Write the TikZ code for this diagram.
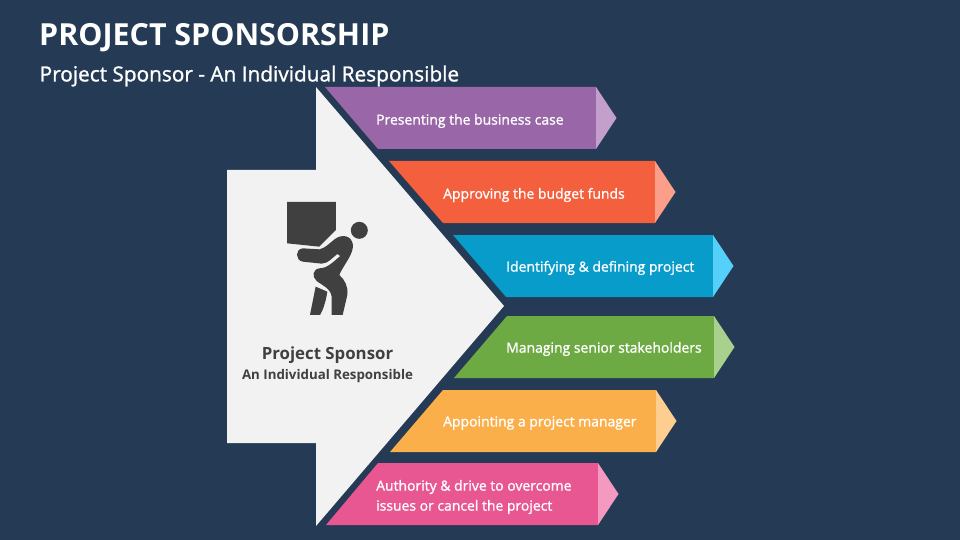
\documentclass[tikz,border=0pt]{standalone}
\usepackage{fontspec}
\setmainfont{Open Sans}
\newfontfamily\heavyfont[FakeBold=1.2]{Open Sans}
\usetikzlibrary{positioning}
\definecolor{BgNavy}{HTML}{253A54}
\definecolor{ArrowGray}{HTML}{F2F2F2}
\definecolor{IconGray}{HTML}{404040}
\definecolor{PurpleMain}{HTML}{9966A8}
\definecolor{PurpleTip}{HTML}{C3A0CC}
\definecolor{RedMain}{HTML}{F45F3D}
\definecolor{RedTip}{HTML}{FB9E8A}
\definecolor{BlueMain}{HTML}{089CCB}
\definecolor{BlueTip}{HTML}{55D0FB}
\definecolor{GreenMain}{HTML}{6EAA44}
\definecolor{GreenTip}{HTML}{A9D18E}
\definecolor{OrangeMain}{HTML}{FBAF4B}
\definecolor{OrangeTip}{HTML}{FDCE8F}
\definecolor{PinkMain}{HTML}{E95793}
\definecolor{PinkTip}{HTML}{F49AC1}
\tikzset{
  banner/.style={anchor=west,text=white,font=\fontsize{13.95}{20}\selectfont\heavyfont,align=left,inner sep=0pt},
  heading/.style={anchor=west,text=white,inner sep=0pt},
  caption/.style={text=IconGray,inner sep=0pt}
}
\begin{document}
\begin{tikzpicture}[x=1pt,y=-1pt]
\useasboundingbox (0,0) rectangle (960,540);
\fill [BgNavy] (0,0) rectangle (960,540);
\node[heading,font=\fontsize{30.4}{36}\selectfont\bfseries] (title) at (39,38) {PROJECT SPONSORSHIP};
\node[heading,font=\fontsize{20.8}{24}\selectfont\heavyfont] (subtitle) at (39.5,76) {Project Sponsor - An Individual Responsible};
% big arrow
\fill [ArrowGray] (227,170) -- (316,170) -- (316,87) -- (504,306) -- (316,526) -- (316,443) -- (227,443) -- cycle;
% banners: top, slanted corner, lower corner, body end, colours
\foreach \ytop/\xa/\xb/\xend/\cmain/\ctip in {
  87/325/378/596/PurpleMain/PurpleTip,
  161/389/443/655/RedMain/RedTip,
  235/453/506/713/BlueMain/BlueTip,
  316/507/454/714/GreenMain/GreenTip,
  390/443/390/656/OrangeMain/OrangeTip,
  463/378/326/598/PinkMain/PinkTip}
{
\fill [\cmain] (\xa,\ytop) -- (\xend,\ytop) -- (\xend,\ytop+62) -- (\xb,\ytop+62) -- cycle;
\fill [\ctip] (\xend,\ytop) -- (\xend+20.5,\ytop+31) -- (\xend,\ytop+62) -- cycle;
}
\node[banner] (present) at (376,121) {Presenting the business case};
\node[banner] (approve) at (443,195) {Approving the budget funds};
\node[banner] (identify) at (506,268) {Identifying \& defining project};
\node[banner] (manage) at (506,349) {Managing senior stakeholders};
\node[banner] (appoint) at (443,423) {Appointing a project manager};
\node[banner] (authority) at (376,497) {Authority \& drive to overcome\\issues or cancel the project};
% person with box
\begin{scope}[shift={(260,180)},x=0.3333pt,y=-0.3333pt]
\fill [IconGray] (81,66) -- (228,66) -- (228,150) -- (178,200) -- (81,190) -- cycle;
\fill [IconGray] (298,151) circle (25.5);
\fill [IconGray] (128,205) -- (178,208) .. controls (195,205) and (208,190) .. (225,177)
  .. controls (245,162) and (275,165) .. (279,195) .. controls (280,225) and (250,255) .. (238,285)
  .. controls (255,300) and (265,320) .. (262,345) -- (248,405) -- (215,405) -- (215,350)
  .. controls (212,325) and (185,315) .. (170,303) .. controls (155,290) and (158,268) .. (178,265)
  .. controls (205,265) and (225,240) .. (241,228) -- (232,222) .. controls (215,235) and (205,250) .. (185,251)
  -- (128,245) .. controls (105,240) and (105,208) .. (128,205) -- cycle;
\fill [IconGray] (167,320) -- (202,335) .. controls (198,360) and (192,385) .. (180,405) -- (150,405) -- cycle;
\end{scope}
\node[caption,font=\fontsize{16.8}{20}\selectfont\bfseries] (sponsor) at (327.5,355.5) {Project Sponsor};
\node[caption,font=\fontsize{13.3}{16}\selectfont\bfseries] (individual) at (327.5,376.5) {An Individual Responsible};
\end{tikzpicture}
\end{document}
